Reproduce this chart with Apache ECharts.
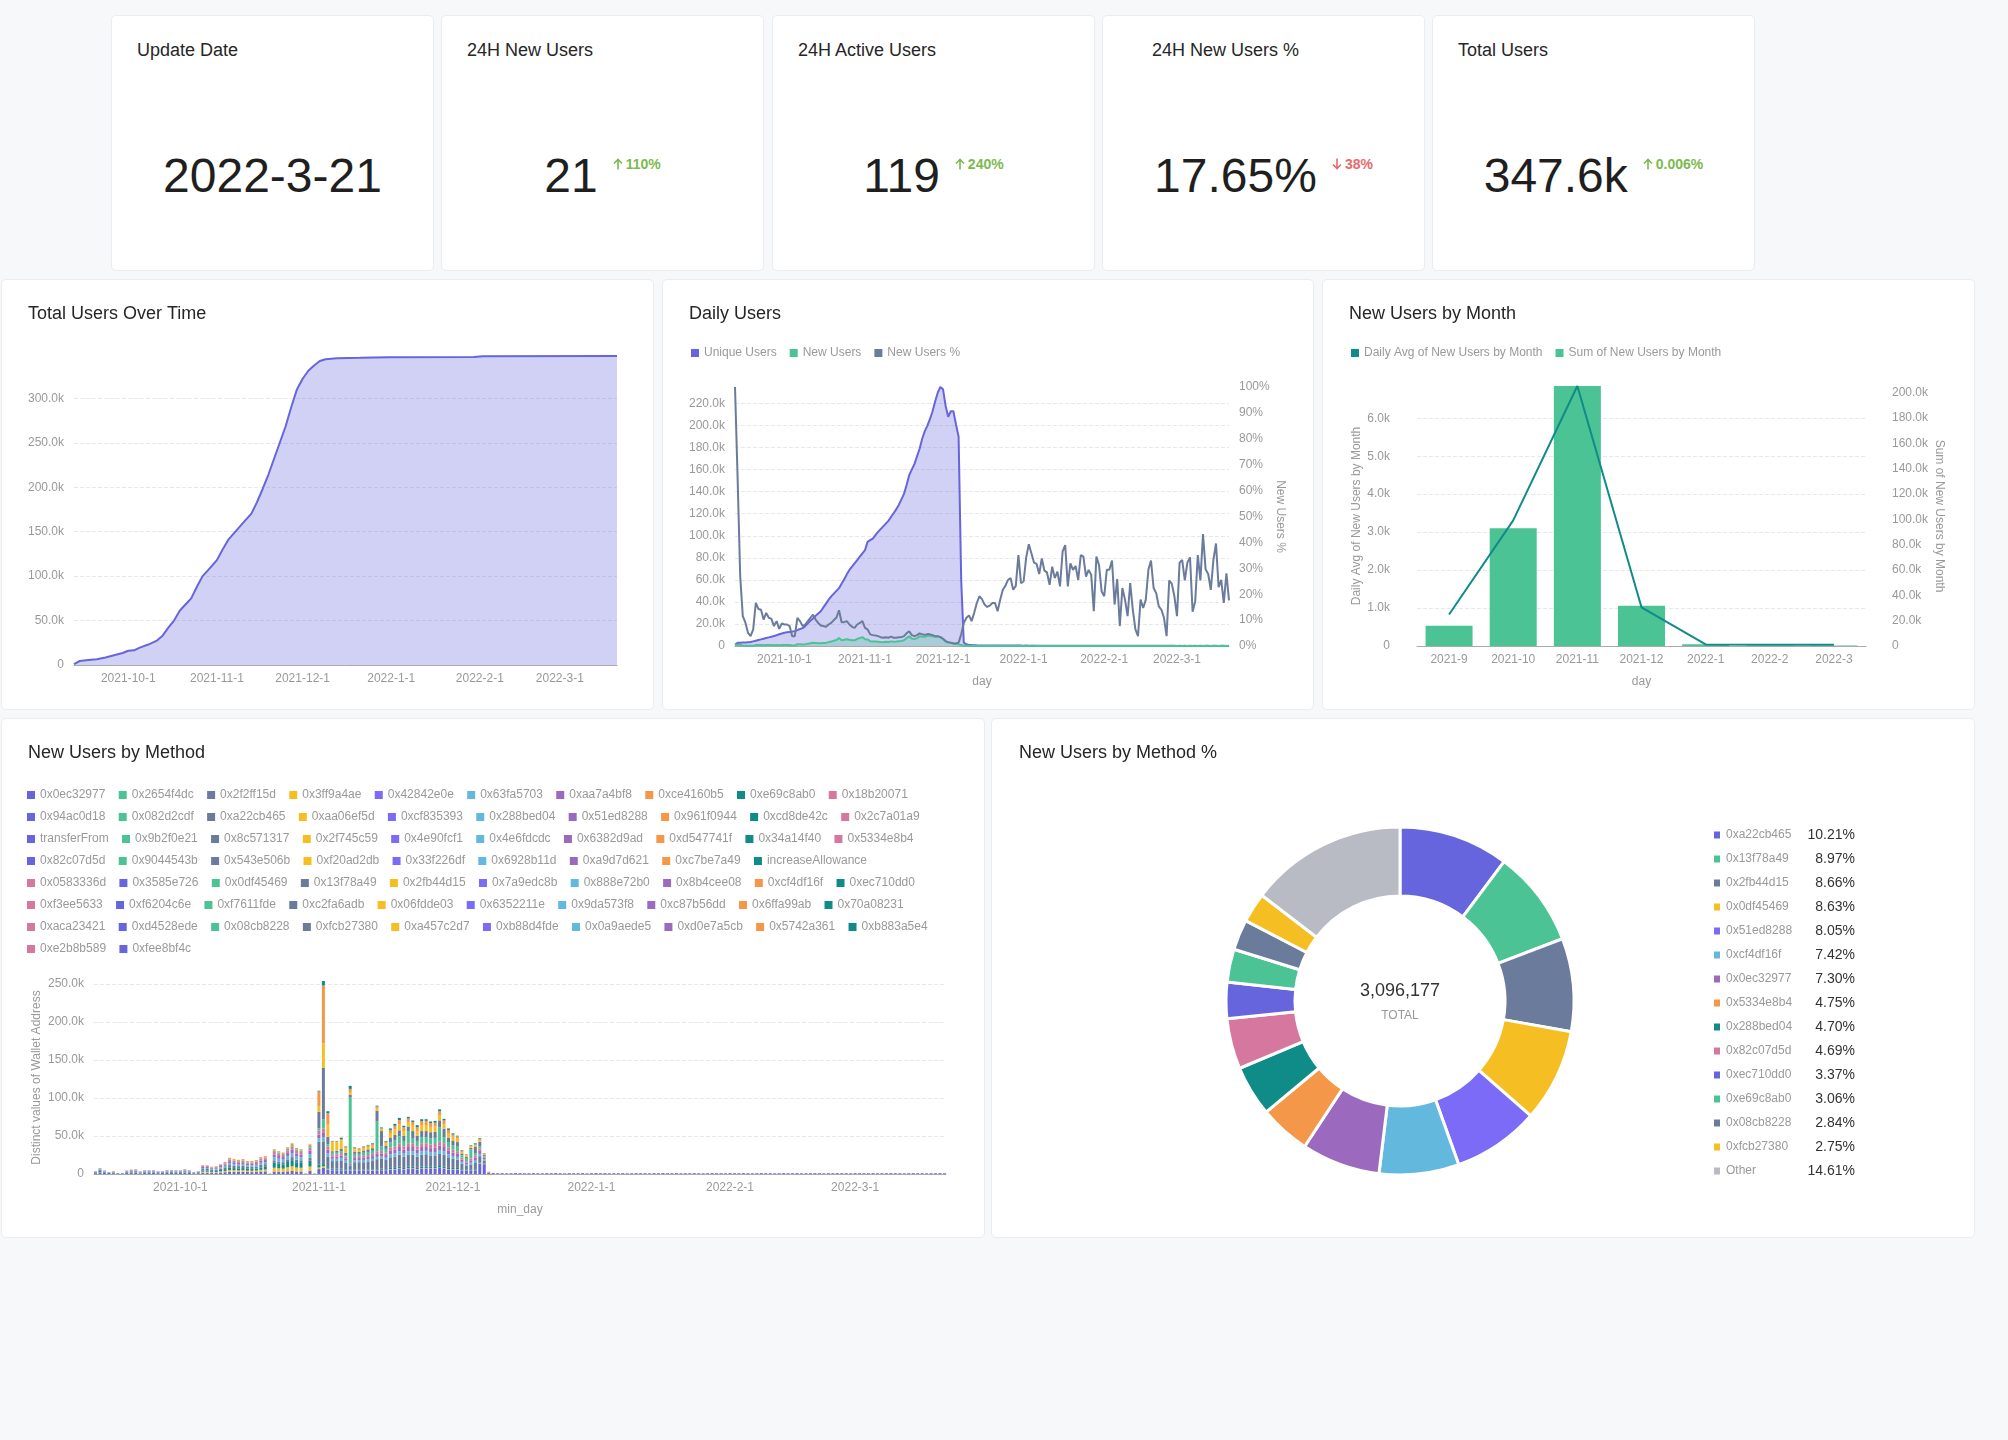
<!DOCTYPE html>
<html>
<head>
<meta charset="utf-8">
<script src="https://cdn.jsdelivr.net/npm/echarts@6/dist/echarts.min.js"></script>
<style>
  body { margin: 0; width: 2008px; height: 1440px; background: #f7f8fa; position: relative; overflow: hidden;
         font-family: "Liberation Sans", Arial, Helvetica, sans-serif; }
  .box { position: absolute; background: #fff; border: 1px solid #eaecef; border-radius: 5px; box-sizing: border-box; }
  .box .chart { position: absolute; left: 0; top: 0; width: 100%; height: 100%; }
  .ctitle { position: absolute; top: 25px; font-size: 18px; line-height: 18px; color: #262626; white-space: nowrap; }
  .kpi { position: absolute; left: 0; right: 0; top: 136px; display: flex; justify-content: center; align-items: flex-start; }
  .num { font-size: 48px; line-height: 48px; color: #1f1f1f; }
  .delta { margin-left: 15px; margin-top: 5px; font-size: 14px; line-height: 14px; font-weight: bold; display: flex; align-items: flex-start; }
  .delta svg { margin-right: 3px; margin-top: 1px; }
  .up { color: #7cb94d; }
  .down { color: #e8696b; }
</style>
</head>
<body>
<div id="c1" class="box" style="left:1px;top:279px;width:653px;height:431px"><div class="chart" id="chart-total"></div></div>
<div id="c2" class="box" style="left:662px;top:279px;width:652px;height:431px"><div class="chart" id="chart-daily"></div></div>
<div id="c3" class="box" style="left:1322px;top:279px;width:653px;height:431px"><div class="chart" id="chart-month"></div></div>
<div id="c4" class="box" style="left:1px;top:718px;width:984px;height:520px"><div class="chart" id="chart-method"></div></div>
<div id="c5" class="box" style="left:991px;top:718px;width:984px;height:520px"><div class="chart" id="chart-pie"></div></div>

<script>
// ---- KPI cards ----
const kpiTitles = ['Update Date', '24H New Users', '24H Active Users', '24H New Users %', 'Total Users'];
const kpiValues = ['2022-3-21', '21', '119', '17.65%', '347.6k'];
const kpiDeltas = ['', '110%', '240%', '38%', '0.006%'];
const kpiDirs = ['', 'up', 'up', 'down', 'up'];

// ---- Total Users Over Time (day offset from 2021-9-12, value in k) ----
const totalDays = [0, 2, 5, 8, 11, 14, 17, 19, 21, 23, 26, 29, 31, 33, 35, 37, 39, 41, 43, 45, 47, 50, 52, 54, 57, 60, 62, 64, 66, 68, 70, 72, 74, 76, 78, 80, 82, 84, 86, 88, 92, 100, 110, 140, 143, 190];
const totalUsersK = [1.0, 4.5, 5.5, 6.5, 8.5, 11, 13.5, 16, 16.5, 19.5, 23, 27.5, 33, 42, 50, 61, 68, 75, 88, 100, 107, 118, 130, 141, 152, 163, 170, 183, 198, 214, 232, 250, 268, 290, 310, 322, 331, 337, 342, 344, 345, 345.5, 346.2, 346.4, 347.4, 347.6];

// ---- Daily Users (one value per day from 2021-9-12 to 2022-3-21) ----
const uniqueUsersK = [
  1.2, 3, 3, 3.1, 3.2, 3.4, 3.6, 4.2, 4.8, 5.4,
  6, 6.6, 7.2, 7.8, 8.4, 9, 9.8, 10.6, 11.3, 12,
  12.4, 12.8, 13.1, 13.5, 14.4, 15.4, 16.2, 18, 20.5, 23,
  25, 27.5, 29.5, 31.5, 35, 38.5, 42, 45, 47.5, 50,
  52.5, 56.5, 60.5, 65, 69, 72, 75, 78, 81, 84,
  87, 94.5, 96, 97.5, 100.5, 103.5, 106, 108.5, 111, 113.5,
  117, 120.5, 124, 128, 133, 138, 146, 155, 160, 165,
  172, 179, 188, 195, 200, 206, 213, 222, 230, 235,
  233, 218, 208, 213, 213, 201, 190, 60, 3, 1.5,
  1.0, 0.8, 0.7, 0.6, 0.55, 0.5, 0.48,
  0.46, 0.45, 0.44, 0.42, 0.43, 0.41, 0.40, 0.39, 0.40, 0.38,
  0.37, 0.36, 0.37, 0.35, 0.34, 0.35, 0.33, 0.32, 0.33, 0.31,
  0.30, 0.31, 0.29, 0.28, 0.29, 0.27, 0.26, 0.27, 0.25, 0.26,
  0.24, 0.25, 0.23, 0.24, 0.22, 0.23, 0.21, 0.22, 0.20, 0.21,
  0.20, 0.19, 0.20, 0.18, 0.19, 0.18, 0.17, 0.18, 0.17, 0.16,
  0.17, 0.16, 0.15, 0.16, 0.15, 0.14, 0.15, 0.14, 0.15, 0.14,
  0.13, 0.14, 0.13, 0.14, 0.13, 0.12, 0.13, 0.12, 0.13, 0.12,
  0.12, 0.13, 0.12, 0.11, 0.12, 0.11, 0.12, 0.11, 0.12, 0.11,
  0.12, 0.11, 0.12, 0.11, 0.12, 0.12, 0.11, 0.12, 0.12, 0.11,
  0.12, 0.12, 0.11, 0.12
];
const newUsersK = [
  1.2, 1.0, 0.9, 0.4, 0.3, 0.2, 0.15, 0.3, 0.8, 0.8,
  0.8, 0.7, 0.9, 0.85, 0.9, 0.7, 0.9, 0.7, 1, 1,
  1, 1, 0.5, 0.5, 1.6, 1.5, 1.3, 1.5, 2, 2.5,
  3, 2.8, 2.6, 2.5, 2.7, 2.8, 3.5, 4, 4.8, 5.4,
  7.2, 5.2, 5.6, 6.2, 5.7, 5.3, 5.2, 6.5, 7.2, 8.1,
  6.1, 6, 4.3, 4.1, 4.1, 3.9, 3.6, 3.5, 3.8, 3.6,
  4.2, 3.9, 4, 4.4, 4.5, 5.2, 7.2, 8.8, 6.7, 6.3,
  7.2, 8.8, 8.5, 8.4, 9.2, 9.3, 8.9, 8.4, 8.7, 8,
  6.5, 4.1, 3.1, 2.8, 2.1, 2, 1.5, 1, 0.27, 0.16,
  0.12, 0.08, 0.09, 0.1, 0.1, 0.09, 0.08,
  0.07, 0.07, 0.08, 0.07, 0.06, 0.07, 0.08, 0.09, 0.10, 0.10,
  0.09, 0.08, 0.09, 0.12, 0.09, 0.09, 0.11, 0.12, 0.12, 0.10,
  0.10, 0.09, 0.10, 0.08, 0.09, 0.07, 0.08, 0.07, 0.06, 0.09,
  0.09, 0.06, 0.07, 0.07, 0.07, 0.06, 0.08, 0.08, 0.06, 0.07,
  0.06, 0.05, 0.06, 0.03, 0.06, 0.05, 0.04, 0.04, 0.05, 0.04,
  0.05, 0.02, 0.03, 0.03, 0.02, 0.03, 0.02, 0.01, 0.01, 0.02,
  0.02, 0.02, 0.04, 0.04, 0.03, 0.03, 0.02, 0.02, 0.02, 0.01,
  0.00, 0.03, 0.03, 0.02, 0.01, 0.04, 0.04, 0.03, 0.04, 0.04,
  0.02, 0.02, 0.04, 0.03, 0.05, 0.03, 0.03, 0.04, 0.05, 0.03,
  0.03, 0.02, 0.03, 0.02
];
const newUsersPct = [
  100, 65, 27, 11.5, 9, 5.1, 3.8, 6.4, 16.6, 14.3,
  14, 10.2, 12.8, 10.9, 10.5, 7.7, 9.6, 6.6, 8.7, 8.3,
  8.3, 7.7, 3.8, 3.8, 10.9, 9.6, 7.7, 8.3, 9.6, 10.9,
  12.1, 10.2, 8.9, 7.9, 7.7, 7.4, 8.3, 8.9, 10, 10.9,
  13.8, 9.2, 9.2, 9.6, 8.3, 7.4, 7, 8.3, 8.9, 9.6,
  7, 6.4, 4.5, 4.2, 4.1, 3.8, 3.4, 3.2, 3.4, 3.2,
  3.6, 3.2, 3.2, 3.4, 3.4, 3.8, 4.9, 5.7, 4.2, 3.8,
  4.2, 4.9, 4.5, 4.3, 4.6, 4.5, 4.2, 3.8, 3.8, 3.4,
  2.8, 1.9, 1.5, 1.3, 1, 1, 1.3, 4.5, 8.9, 10.9,
  11.8, 9.6, 12.8, 16.6, 19.2, 18.1, 16, 15.1, 15.6, 16.6,
  16.6, 13.4, 17.9, 21.7, 23.2, 25.5, 26.2, 21.7, 23.2, 35.1,
  24.3, 24.9, 34.2, 39.3, 35.8, 32.2, 31.7, 27.8, 33.8, 29.1,
  28.4, 23.6, 30.6, 26.2, 28.7, 23, 36.4, 39, 23, 31.9,
  29.4, 30.9, 25.5, 35.1, 34.5, 26.8, 29.4, 27.5, 13.4, 34.5,
  31.3, 21.1, 19.2, 29.4, 29.4, 33, 16, 25.8, 7.7, 22.4,
  17.9, 11.5, 24.3, 14, 6.4, 3.8, 17.9, 14.7, 17.9, 29.4,
  33, 22.4, 20.4, 15.3, 14, 10.9, 3.8, 25.3, 24, 19.2,
  11.5, 32.2, 33.2, 25.3, 32.2, 34.2, 13.2, 17.2, 35.1, 25.3,
  43.2, 29.6, 27.8, 21.7, 33.2, 39.6, 22.7, 25.5, 16.6, 28.1,
  17.65
];

// ---- New Users by Month ----
const monthLabels = ['2021-9', '2021-10', '2021-11', '2021-12', '2022-1', '2022-2', '2022-3'];
const monthSumK = [15.9, 92.9, 205.3, 31.7, 1.3, 0.4, 0.35];
const monthAvgK = [0.83, 3.31, 6.85, 1.02, 0.04, 0.03, 0.03];

// ---- New Users by Method (stacked, one value per day from 2021-9-12, in k) ----
const methodNames = [
  '0x0ec32977', '0x2654f4dc', '0x2f2ff15d', '0x3ff9a4ae', '0x42842e0e', '0x63fa5703', '0xaa7a4bf8', '0xce4160b5', '0xe69c8ab0', '0x18b20071',
  '0x94ac0d18', '0x082d2cdf', '0xa22cb465', '0xaa06ef5d', '0xcf835393', '0x288bed04', '0x51ed8288', '0x961f0944', '0xcd8de42c', '0x2c7a01a9',
  'transferFrom', '0x9b2f0e21', '0x8c571317', '0x2f745c59', '0x4e90fcf1', '0x4e6fdcdc', '0x6382d9ad', '0xd547741f', '0x34a14f40', '0x5334e8b4',
  '0x82c07d5d', '0x9044543b', '0x543e506b', '0xf20ad2db', '0x33f226df', '0x6928b11d', '0xa9d7d621', '0xc7be7a49', 'increaseAllowance',
  '0x0583336d', '0x3585e726', '0x0df45469', '0x13f78a49', '0x2fb44d15', '0x7a9edc8b', '0x888e72b0', '0x8b4cee08', '0xcf4df16f', '0xec710dd0',
  '0xf3ee5633', '0xf6204c6e', '0xf7611fde', '0xc2fa6adb', '0x06fdde03', '0x6352211e', '0x9da573f8', '0xc87b56dd', '0x6ffa99ab', '0x70a08231',
  '0xaca23421', '0xd4528ede', '0x08cb8228', '0xfcb27380', '0xa457c2d7', '0xb88d4fde', '0x0a9aede5', '0xd0e7a5cb', '0x5742a361', '0xb883a5e4',
  '0xe2b8b589', '0xfee8bf4c'
];
const m0ec32977 = [
  1.2, 2.0, 1.5, 1.4, 1.2, 0.8, 0.8, 1.4, 1.8, 1.9,
  1.1, 1.6, 1.5, 1.6, 1.2, 1.3, 1.6, 1.5, 1.6, 1.6,
  1.9, 1.6, 0.9, 1.2, 1.8, 1.7, 1.4, 1.6, 2.0, 2.4,
  3.2, 2.9, 2.8, 3.0, 2.6, 2.5, 2.7, 3.3, 3.5, 0.5,
  3.3, 3.0, 2.8, 3.5, 4.0, 3.4, 3.3, 0.5, 3.9, 0.5,
  6.5, 8, 6, 5, 5, 5, 4, 4, 4, 4,
  4, 4, 4.5, 5, 5, 5, 6, 6, 7, 6,
  7, 7, 6, 7, 7, 7, 7, 8, 7, 6,
  6, 6, 5, 4, 5, 5, 14, 13, 2,
  1.2, 1.0, 1.1, 0.9, 1.0, 1.2, 1.1, 0.9, 1.0, 1.1,
  1.0, 0.9, 1.1, 1.0, 1.2, 1.0, 0.9, 1.1, 1.0, 1.0,
  1.1, 0.9, 1.0, 1.2, 1.0, 1.1, 0.9, 1.0, 1.0, 1.1,
  0.9, 1.0, 1.1, 1.0, 1.0, 0.9, 1.1, 1.0, 1.2, 1.0,
  1.0, 1.1, 0.9, 1.0, 1.0, 1.1, 1.0, 0.9, 1.0, 1.1,
  1.0, 1.0, 0.9, 1.1, 1.0, 1.0, 1.1, 1.0, 0.9, 1.0,
  1.1, 1.0, 1.0, 0.9, 1.0, 1.1, 1.0, 1.0, 1.1, 0.9,
  1.0, 1.0, 1.1, 1.0, 0.9, 1.0, 1.0, 1.1, 1.0, 1.0,
  0.9, 1.1, 1.0, 1.0, 1.0, 1.1, 0.9, 1.0, 1.0, 1.1,
  1.0, 1.0, 0.9, 1.0, 1.1, 1.0, 1.0, 0.9, 1.0, 1.0,
  1.1, 1.0
];
const m3ff9a4ae = [
  0.2, 0.3, 0.2, 0, 0.3, 0, 0, 0.2, 0.3, 0.3,
  0.2, 0.2, 0.3, 0.2, 0.2, 0.2, 0.2, 0.2, 0.3, 0.2,
  0.3, 0.2, 0.1, 0.2, 1.2, 1.3, 1.0, 1.0, 1.3, 1.6,
  2.1, 2.0, 1.9, 1.9, 1.7, 1.8, 1.8, 2.2, 2.4, 0,
  4.9, 4.5, 4.2, 5.3, 6.1, 5.1, 4.9, 0, 5.9, 0,
  2, 2, 1, 0.5, 0.5, 0.5, 0.5, 0.5, 0.5, 0.5,
  0.5, 0.5, 0.5, 0.5, 0.5, 0.5, 0.5, 0.5, 0.5, 0.5,
  0.5, 0.5, 0.5, 0.5, 0.5, 0.5, 0.5, 0.5, 0.5, 0.5,
  0.5, 0.5, 0.5, 0.5, 0.5, 0.5, 0.5, 0.3, 0
];
const me69c8ab0 = [
  0.6, 2.5, 0.8, 0.3, 0.4, 0.1, 0.1, 0.8, 0.9, 1.0,
  0.5, 0.8, 0.8, 0.7, 0.6, 0.5, 0.8, 0.9, 0.8, 0.8,
  1.0, 0.8, 0.4, 0.6, 1.8, 1.8, 1.4, 1.6, 2.0, 2.4,
  3.2, 2.9, 2.8, 2.9, 2.6, 2.5, 2.7, 3.3, 3.5, 0,
  6.5, 6.0, 5.7, 7.0, 8.1, 6.9, 6.5, 0, 7.8, 0,
  4, 3, 2, 1.5, 1.5, 1.5, 1, 1, 1, 1,
  1, 1, 1, 1, 1.5, 1, 1.5, 1.5, 2, 1.5,
  2, 2, 1.5, 2, 2, 2, 2, 2, 2, 1.5,
  1.5, 1.5, 1, 1, 1, 1, 1, 0.5, 0
];
const ma22cb465 = [
  0.6, 1.0, 0.8, 0.4, 0.5, 0.2, 0.2, 0.8, 0.9, 1.0,
  0.5, 0.8, 0.8, 0.9, 0.6, 0.6, 0.8, 0.8, 0.7, 0.8,
  1.0, 0.8, 0.4, 0.6, 1.7, 1.8, 1.4, 1.6, 2.0, 2.4,
  3.2, 2.9, 2.8, 2.8, 2.5, 2.6, 2.7, 3.3, 3.5, 0,
  3.3, 3.0, 2.8, 3.5, 4.0, 3.4, 3.3, 0, 3.9, 0,
  30, 30, 14, 10, 10, 11, 9, 5, 10, 10,
  10, 11, 11, 13, 13, 12, 14, 15, 16, 15,
  16, 16, 15, 16, 16.5, 15, 15, 16, 16, 14,
  12, 11, 7, 5, 6, 8, 8, 4, 0
];
const m288bed04 = [
  0.4, 0.8, 0.5, 0.2, 0.4, 0.1, 0.1, 0.5, 0.6, 0.7,
  0.4, 0.5, 0.6, 0.5, 0.4, 0.4, 0.5, 0.5, 0.5, 0.6,
  0.7, 0.5, 0.3, 0.4, 1.4, 1.3, 1.2, 1.2, 1.6, 1.9,
  2.6, 2.4, 2.2, 2.5, 2.0, 2.1, 2.2, 2.7, 2.8, 0,
  3.9, 3.6, 3.4, 4.2, 4.8, 4.1, 3.9, 0, 4.7, 0,
  4.5, 5, 4, 3, 3, 3, 3, 1.5, 2.5, 2.5,
  3, 3, 3, 3, 3, 3, 4, 4, 4.5, 4,
  4.5, 4.5, 4, 4.5, 4.5, 4.5, 4.5, 5, 4.5, 4,
  3.5, 3.5, 2.5, 2, 2.5, 3, 3, 1.5, 0
];
const m51ed8288 = [
  0.4, 0.5, 0.4, 0.2, 0.3, 0.1, 0.1, 0.4, 0.6, 0.6,
  0.3, 0.5, 0.5, 0.5, 0.4, 0.4, 0.5, 0.5, 0.5, 0.4,
  0.6, 0.5, 0.2, 0.4, 1.4, 1.4, 1.2, 1.2, 1.6, 1.9,
  2.6, 2.4, 2.2, 2.3, 2.0, 1.9, 2.2, 2.7, 2.8, 0,
  3.9, 3.6, 3.4, 4.2, 4.8, 4.1, 3.9, 0, 4.7, 0,
  5, 6, 5, 3, 3, 3.5, 3, 1.5, 3, 3,
  3, 3, 3.5, 4, 4, 3.5, 5, 5, 5.5, 5,
  5.5, 5.5, 5, 5.5, 5, 5, 5.5, 6, 5.5, 5,
  4.5, 4, 3, 2.5, 3, 4, 4, 2, 0
];
const m5334e8b4 = [
  0.3, 0.5, 0.4, 0.1, 0.2, 0, 0, 0.4, 0.5, 0.6,
  0.3, 0.5, 0.4, 0.5, 0.3, 0.3, 0.5, 0.5, 0.5, 0.5,
  0.6, 0.5, 0.2, 0.3, 1.2, 1.2, 1.0, 1.0, 1.3, 1.6,
  2.1, 2.0, 1.9, 2.0, 1.7, 1.7, 1.8, 2.2, 2.4, 0,
  3.3, 3.0, 2.8, 3.5, 4.0, 3.4, 3.3, 0, 3.9, 0,
  5, 6, 4, 3, 3, 3, 2.5, 1, 2.5, 2.5,
  2.5, 2.5, 3, 3.5, 3.5, 3, 4, 4.5, 5, 4.5,
  5, 5, 4.5, 5, 5, 5, 5, 5, 5, 4,
  4, 3.5, 2.5, 2, 2.5, 3, 3, 1.5, 0
];
const m0df45469 = [
  0, 0, 0, 0, 0, 0, 0, 0, 0, 0,
  0, 0, 0, 0, 0, 0, 0, 0, 0, 0,
  0, 0, 0, 0, 0.3, 0.3, 0.3, 0.3, 0.4, 0.5,
  0.6, 0.6, 0.6, 0.6, 0.5, 0.5, 0.6, 0.7, 0.7, 0,
  1.6, 1.5, 1.5, 1.9, 2.2, 1.8, 1.6, 0, 2.0, 0,
  3, 12, 3, 2, 2, 2.5, 2, 86, 3, 3,
  4, 4, 4, 39, 6, 5, 7, 8, 9, 7,
  16, 6, 7, 8, 8, 8, 8, 19, 8, 7,
  6, 6, 3, 4, 12, 3, 3, 1, 0
];
const m13f78a49 = [
  0, 0, 0, 0, 0, 0, 0, 0, 0, 0,
  0, 0, 0, 0, 0, 0, 0, 0, 0, 0,
  0, 0, 0, 0, 0, 0, 0, 0, 0, 0,
  0, 0, 0, 0, 0, 0, 0, 0, 0, 0,
  0, 0, 0, 0, 0, 0, 0, 0, 0, 0,
  22, 68, 10, 2, 2.5, 3, 3, 4, 3, 2.5,
  3, 3.5, 3.5, 14, 20, 4, 6, 7, 8, 7,
  6, 10, 7, 8, 8, 8, 8, 9, 11, 6,
  6, 6, 2.5, 1.5, 2, 8, 6, 1.5, 0
];
const m2fb44d15 = [
  0, 0, 0, 0, 0, 0, 0, 0, 0, 0,
  0, 0, 0, 0, 0, 0, 0, 0, 0, 0,
  0, 0, 0, 0, 0, 0, 0, 0, 0, 0,
  0, 0, 0, 0, 0, 0, 0, 0, 0, 0,
  0, 0, 0, 0, 0, 0, 0, 0, 0, 0,
  7, 32, 16, 12, 11.5, 11, 6, 3.5, 3, 2.5,
  3, 3, 3, 3, 2, 3, 6, 7, 8, 6,
  6, 7, 6, 8, 8, 7, 7, 7, 6, 6,
  5, 4.5, 2, 2, 1.5, 2, 2, 0.6, 0
];
const mcf4df16f = [
  0.2, 0.2, 0.2, 0, 0.6, 0, 0, 0.3, 0.4, 0.4,
  0.2, 0.3, 0.3, 0.3, 0.2, 0.2, 0.3, 0.3, 0.3, 0.3,
  0.4, 0.3, 0.1, 0.2, 0.9, 0.7, 0.7, 0.9, 0.8, 1.3,
  1.7, 1.5, 1.5, 1.6, 1.4, 1.4, 1.6, 1.8, 1.9, 0,
  1.9, 1.8, 1.7, 2.1, 2.4, 2.1, 1.9, 0, 2.2, 0,
  19.6, 76, 15, 1, 1, 2, 2, 4, 2, 2,
  2, 2, 2.5, 3, 2, 2.5, 4, 5, 5.5, 5,
  4.5, 5, 5, 5, 5.5, 5, 5, 5, 5, 4,
  3, 3, 1.5, 1, 1, 1.5, 2, 1, 1
];
const mec710dd0 = [
  0, 0, 0, 0, 0, 0, 0, 0, 0, 0,
  0, 0, 0, 0, 0, 0, 0, 0, 0, 0,
  0, 0, 0, 0, 0, 0, 0, 0, 0, 0,
  0, 0, 0, 0, 0, 0, 0, 0, 0, 0,
  0, 0, 0, 0, 0, 0, 0, 0, 0, 0,
  1, 6, 2.6, 0.5, 0.5, 1.8, 0.5, 4, 0.7, 0.4,
  0.5, 0.8, 0.9, 1, 0.8, 1, 2, 2.5, 2.9, 2,
  2.2, 1.9, 2.8, 2.6, 2.1, 2.1, 2.4, 2.5, 2.1, 2,
  1.5, 0.9, 0.8, 0.5, 0.8, 1.4, 0.9, 0.5, 0
];

// ---- New Users by Method % ----
const donutNames = ['0xa22cb465', '0x13f78a49', '0x2fb44d15', '0x0df45469', '0x51ed8288', '0xcf4df16f', '0x0ec32977', '0x5334e8b4', '0x288bed04', '0x82c07d5d', '0xec710dd0', '0xe69c8ab0', '0x08cb8228', '0xfcb27380', 'Other'];
const donutValues = [316060, 277680, 268100, 267170, 249220, 229736, 226021, 147068, 145520, 145211, 104341, 94743, 87931, 85145, 452231];

// ---- style ----
const FONT = '"Liberation Sans", Arial, Helvetica, sans-serif';
const BLUE = '#6665DD', GREEN = '#4CC394', SLATE = '#6A7B9C', YELLOW = '#F5BF23', VIOLET = '#7B6BF6',
      LBLUE = '#62B9DD', PURPLE = '#9B6ABF', ORANGE = '#F59748', TEAL = '#0F8B88', PINK = '#D6779F', GREY = '#B8BAC4';
const PALETTE = [BLUE, GREEN, SLATE, YELLOW, VIOLET, LBLUE, PURPLE, ORANGE, TEAL, PINK];

const axisText = { color: '#999', fontSize: 12, fontFamily: FONT };
const dashed = { lineStyle: { type: 'dashed', color: '#e8e8e8' }, showMaxLine: false };
const kFmt = v => (v === 0 ? '0' : v.toFixed(1) + 'k');
const dayTs = i => new Date(2021, 8, 12 + i).getTime();
const byDay = vals => vals.map((v, i) => [dayTs(i), v]);

function panelTitle(text, left) {
  return { text, left, top: 25, padding: 0, textStyle: { fontSize: 18, fontWeight: 'normal', color: '#262626', fontFamily: FONT } };
}
function timeAxis(extra) {
  return Object.assign({
    type: 'time',
    maxInterval: 31 * 86400000,
    axisLine: { lineStyle: { color: '#aaa' } },
    axisTick: { show: false },
    splitLine: { show: false },
    axisLabel: Object.assign({ formatter: '{yyyy}-{M}-{d}', margin: 8 }, axisText),
    nameTextStyle: axisText,
    nameMoveOverlap: false
  }, extra);
}
function valueAxis(extra) {
  return Object.assign({
    type: 'value', min: 0,
    axisLine: { show: false }, axisTick: { show: false },
    axisLabel: Object.assign({ formatter: kFmt, margin: 10, showMaxLabel: false }, axisText),
    splitLine: dashed,
    nameTextStyle: axisText,
    nameMoveOverlap: false
  }, extra);
}
const legendBase = { padding: 0, icon: 'rect', itemWidth: 8, itemHeight: 8, itemGap: 13, textStyle: axisText };

// ---- KPI cards ----
const cardX = [111, 441, 772, 1102, 1432];
const titleIndent = [26, 26, 26, 50, 26];
const upSvg = '<svg width="10" height="12" viewBox="0 0 10 12"><path d="M5 11.5V1.5M1 5.5l4-4 4 4" stroke="currentColor" stroke-width="1.6" fill="none"/></svg>';
const downSvg = '<svg width="10" height="12" viewBox="0 0 10 12"><path d="M5 0.5V10.5M1 6.5l4 4 4-4" stroke="currentColor" stroke-width="1.6" fill="none"/></svg>';
kpiTitles.forEach((t, i) => {
  const card = document.createElement('div');
  card.className = 'box';
  card.style.cssText = `left:${cardX[i]}px;top:15px;width:323px;height:256px`;
  let html = `<div class="ctitle" style="left:${titleIndent[i] - 1}px">${t}</div><div class="kpi"><span class="num">${kpiValues[i]}</span>`;
  if (kpiDeltas[i]) {
    html += `<span class="delta ${kpiDirs[i]}">${kpiDirs[i] === 'up' ? upSvg : downSvg}${kpiDeltas[i]}</span>`;
  }
  card.innerHTML = html + '</div>';
  document.body.appendChild(card);
});

// ---- Total Users Over Time ----
echarts.init(document.getElementById('chart-total')).setOption({
  animation: false,
  textStyle: { fontFamily: FONT },
  title: panelTitle('Total Users Over Time', 26),
  grid: { left: 72, right: 36, top: 76, bottom: 44 },
  xAxis: timeAxis({ min: 'dataMin', max: 'dataMax' }),
  yAxis: valueAxis({ max: 'dataMax', interval: 50 }),
  series: [{
    type: 'line', showSymbol: false,
    data: totalDays.map((d, i) => [dayTs(d), totalUsersK[i]]),
    lineStyle: { color: BLUE, width: 2 }, itemStyle: { color: BLUE },
    areaStyle: { color: BLUE, opacity: 0.3 }
  }]
});

// ---- Daily Users ----
echarts.init(document.getElementById('chart-daily')).setOption({
  animation: false,
  textStyle: { fontFamily: FONT },
  title: panelTitle('Daily Users', 26),
  legend: Object.assign({ left: 28, top: 67, data: ['Unique Users', 'New Users', 'New Users %'] }, legendBase),
  grid: { left: 72, right: 84, top: 107, bottom: 63 },
  xAxis: timeAxis({ min: 'dataMin', max: 'dataMax', name: 'day', nameLocation: 'middle', nameGap: 30 }),
  yAxis: [
    valueAxis({ max: 'dataMax', interval: 20 }),
    valueAxis({
      max: 100, interval: 10, position: 'right', splitLine: { show: false },
      axisLabel: Object.assign({ formatter: '{value}%', margin: 10 }, axisText),
      name: 'New Users %', nameLocation: 'middle', nameGap: 45, nameRotate: -90
    })
  ],
  series: [
    { name: 'Unique Users', type: 'line', showSymbol: false, data: byDay(uniqueUsersK),
      lineStyle: { color: BLUE, width: 2 }, itemStyle: { color: BLUE }, areaStyle: { color: BLUE, opacity: 0.3 } },
    { name: 'New Users', type: 'line', showSymbol: false, data: byDay(newUsersK),
      lineStyle: { color: GREEN, width: 2 }, itemStyle: { color: GREEN }, areaStyle: { color: GREEN, opacity: 0.3 } },
    { name: 'New Users %', type: 'line', showSymbol: false, yAxisIndex: 1, data: byDay(newUsersPct),
      lineStyle: { color: SLATE, width: 2 }, itemStyle: { color: SLATE } }
  ]
});

// ---- New Users by Month ----
echarts.init(document.getElementById('chart-month')).setOption({
  animation: false,
  textStyle: { fontFamily: FONT },
  title: panelTitle('New Users by Month', 26),
  legend: Object.assign({ left: 28, top: 67, data: ['Daily Avg of New Users by Month', 'Sum of New Users by Month'] }, legendBase),
  grid: { left: 94, right: 108, top: 106, bottom: 63 },
  xAxis: {
    type: 'category', data: monthLabels,
    axisLine: { lineStyle: { color: '#aaa' } }, axisTick: { show: false },
    axisLabel: Object.assign({ margin: 8 }, axisText),
    name: 'day', nameLocation: 'middle', nameGap: 30, nameTextStyle: axisText, nameMoveOverlap: false
  },
  yAxis: [
    valueAxis({ max: 'dataMax', interval: 1, offset: 17,
      name: 'Daily Avg of New Users by Month', nameLocation: 'middle', nameGap: 37 }),
    valueAxis({ max: 'dataMax', interval: 20, offset: 16, position: 'right', splitLine: { show: false },
      name: 'Sum of New Users by Month', nameLocation: 'middle', nameGap: 51, nameRotate: -90 })
  ],
  series: [
    { name: 'Sum of New Users by Month', type: 'bar', yAxisIndex: 1, barWidth: 47, data: monthSumK, itemStyle: { color: GREEN } },
    { name: 'Daily Avg of New Users by Month', type: 'line', yAxisIndex: 0, showSymbol: false, data: monthAvgK,
      lineStyle: { color: TEAL, width: 2 }, itemStyle: { color: TEAL }, z: 3 }
  ]
});

// ---- New Users by Method ----
const methodData = {
  '0x0ec32977': m0ec32977, '0x3ff9a4ae': m3ff9a4ae, '0xe69c8ab0': me69c8ab0, '0xa22cb465': ma22cb465,
  '0x288bed04': m288bed04, '0x51ed8288': m51ed8288, '0x5334e8b4': m5334e8b4, '0x0df45469': m0df45469,
  '0x13f78a49': m13f78a49, '0x2fb44d15': m2fb44d15, '0xcf4df16f': mcf4df16f, '0xec710dd0': mec710dd0
};
echarts.init(document.getElementById('chart-method')).setOption({
  animation: false,
  textStyle: { fontFamily: FONT },
  title: panelTitle('New Users by Method', 26),
  // rows are 22px apart: gap 10 + 12px text; the trailing space keeps the horizontal spacing at ~13px
  legend: Object.assign({}, legendBase, { left: 25, top: 70, width: 910, itemGap: 10, formatter: '{name} ' }),
  grid: { left: 92, right: 38, top: 262, bottom: 63 },
  xAxis: timeAxis({ name: 'min_day', nameLocation: 'middle', nameGap: 30 }),
  yAxis: valueAxis({ max: 'dataMax', interval: 50,
    name: 'Distinct values of Wallet Address', nameLocation: 'middle', nameGap: 51 }),
  series: methodNames.map((n, i) => ({
    name: n, type: 'bar', stack: 'all', barWidth: 3,
    data: methodData[n] ? byDay(methodData[n]) : [],
    itemStyle: { color: PALETTE[i % 10] }
  }))
});

// ---- New Users by Method % ----
const donutColors = PALETTE.concat([BLUE, GREEN, SLATE, YELLOW, GREY]);
const donutTotal = donutValues.reduce((a, b) => a + b, 0);
const donutPct = {};
donutNames.forEach((n, i) => { donutPct[n] = (donutValues[i] / donutTotal * 100).toFixed(2) + '%'; });
echarts.init(document.getElementById('chart-pie')).setOption({
  animation: false,
  textStyle: { fontFamily: FONT },
  title: panelTitle('New Users by Method %', 27),
  legend: {
    orient: 'vertical', left: 720, top: 109, padding: 0, icon: 'rect', itemWidth: 8, itemHeight: 9, itemGap: 10,
    formatter: n => `{n|${n}}{p|${donutPct[n]}}`,
    textStyle: { fontFamily: FONT, rich: {
      n: { width: 81, color: '#999', fontSize: 12, lineHeight: 14, fontFamily: FONT },
      p: { width: 48, align: 'right', color: '#333', fontSize: 14, lineHeight: 14, fontFamily: FONT }
    } }
  },
  graphic: [
    { type: 'text', x: 408, y: 272, style: { text: donutTotal.toLocaleString('en-US'), align: 'center', verticalAlign: 'middle', fontSize: 18, fill: '#333', fontFamily: FONT } },
    { type: 'text', x: 408, y: 297, style: { text: 'TOTAL', align: 'center', verticalAlign: 'middle', fontSize: 12, fill: '#999', fontFamily: FONT } }
  ],
  series: [{
    type: 'pie', center: [408, 282], radius: [105, 174], startAngle: 90, clockwise: true,
    label: { show: false }, labelLine: { show: false },
    itemStyle: { borderColor: '#fff', borderWidth: 3 },
    data: donutNames.map((n, i) => ({ name: n, value: donutValues[i], itemStyle: { color: donutColors[i] } }))
  }]
});
</script>
</body>
</html>
